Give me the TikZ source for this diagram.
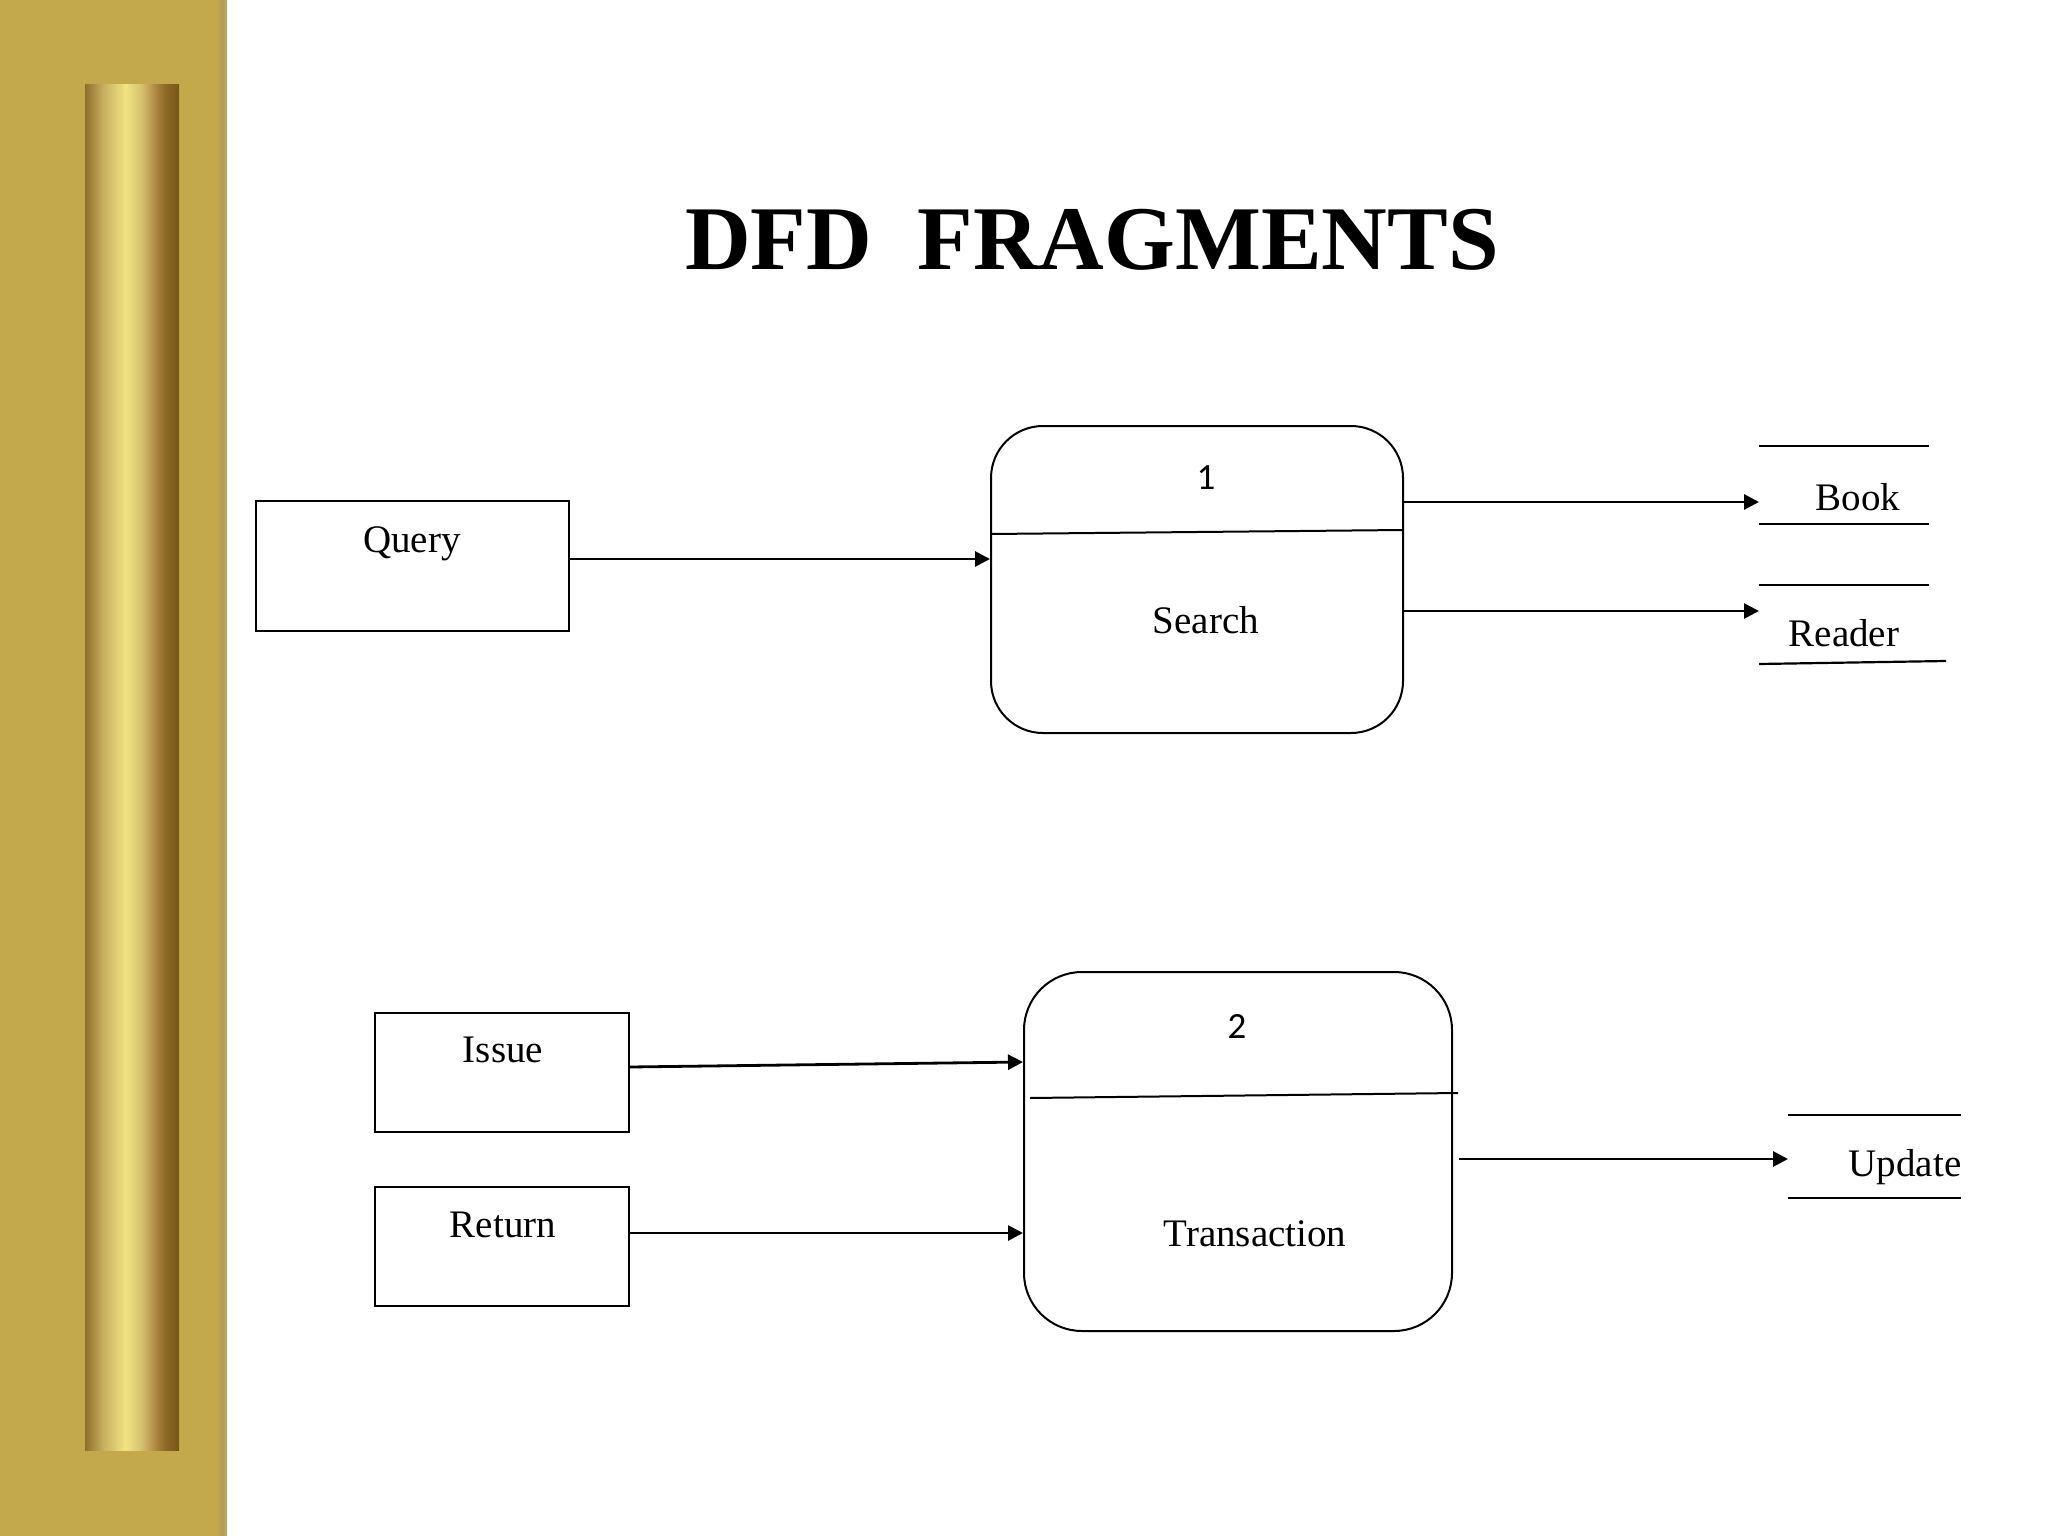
\documentclass[tikz,border=0pt]{standalone}
\usepackage{fontspec}
\setmainfont{Liberation Serif}
\newfontfamily\digitfont{Carlito}
\usetikzlibrary{arrows.meta}
\definecolor{panelgold}{HTML}{C3A94C}
\definecolor{paneledge}{HTML}{B39C55}
\definecolor{barA}{HTML}{8E6F2A}
\definecolor{barB}{HTML}{9E8038}
\definecolor{barC}{HTML}{C9B062}
\definecolor{barD}{HTML}{F0E483}
\definecolor{barE}{HTML}{D8C470}
\definecolor{barF}{HTML}{B08A45}
\definecolor{barG}{HTML}{8F6A25}
\definecolor{barH}{HTML}{74561A}
\pgfdeclarehorizontalshading{goldbar}{100bp}{%
  color(0bp)=(barA);
  color(25bp)=(barA);
  color(27.5bp)=(barB);
  color(35bp)=(barC);
  color(46.5bp)=(barD);
  color(54.5bp)=(barE);
  color(62bp)=(barF);
  color(67.5bp)=(barG);
  color(75bp)=(barH);
  color(100bp)=(barH)}
\pgfdeclarehorizontalshading{goldedge}{100bp}{%
  color(0bp)=(panelgold);
  color(25bp)=(panelgold);
  color(55bp)=(paneledge);
  color(75bp)=(paneledge!85!white);
  color(100bp)=(paneledge!85!white)}
\tikzset{
  txt/.style={font=\fontsize{39}{44}\selectfont, inner sep=0pt, anchor=base},
  digit/.style={font=\digitfont\fontsize{37}{42}\selectfont, inner sep=0pt, anchor=base},
  extbox/.style={draw=black, line width=2pt, rectangle, inner sep=0pt},
  procbox/.style={draw=black, line width=2pt, rectangle, inner sep=0pt},
  storeline/.style={draw=black, line width=2.2pt},
  divider/.style={draw=black, line width=2pt},
  flow/.style={draw=black, line width=2.8pt, -{Triangle[length=15pt,width=15pt]}},
}
\begin{document}
\begin{tikzpicture}[x=1pt,y=-1pt]
\useasboundingbox (0,0) rectangle (2048,1536);
\fill[white] (0,0) rectangle (2048,1536);
% gold side panel
\fill[panelgold] (0,0) rectangle (227,1536);
\shade[shading=goldedge] (216,0) rectangle (227,1536);
\shade[shading=goldbar] (85,85) rectangle (179,1450);
% title
\node[font=\bfseries\fontsize{91}{100}\selectfont, inner sep=0pt, anchor=base] (title) at (1092,269) {DFD\ \ FRAGMENTS};
% ---------- fragment 1 ----------
\node[extbox, minimum width=313pt, minimum height=130pt] (query) at (412.5,566) {};
\node[txt] (querytxt) at (412,552) {Query};
\node[procbox, rounded corners=52pt, minimum width=412pt, minimum height=307pt] (proc1) at (1197,579.5) {};
\node[digit] (p1num) at (1206,489) {1};
\node[txt] (p1name) at (1206,633) {Search};
\coordinate (p1dl) at (991,534);
\coordinate (p1dr) at (1403,530);
\draw[divider] (p1dl) -- (p1dr);
% store Book
\coordinate (bookin) at (1759,502);
\coordinate (booktl) at (1759,446);
\coordinate (booktr) at (1929,446);
\coordinate (bookbl) at (1759,524);
\coordinate (bookbr) at (1929,524);
\draw[storeline] (booktl) -- (booktr);
\draw[storeline] (bookbl) -- (bookbr);
\node[txt] (book) at (1858,510) {Book};
% store Reader
\coordinate (readerin) at (1759,611);
\coordinate (readertl) at (1759,585);
\coordinate (readertr) at (1929,585);
\coordinate (readerbl) at (1759,664);
\coordinate (readerbr) at (1946,661);
\draw[storeline] (readertl) -- (readertr);
\draw[storeline] (readerbl) -- (readerbr);
\node[txt] (reader) at (1844,646) {Reader};
% flows
\draw[flow] ([yshift=7pt]query.east) coordinate (qa) -- (qa -| proc1.west);
\draw[flow] (proc1.east |- bookin) -- (bookin);
\draw[flow] (proc1.east |- readerin) -- (readerin);
% ---------- fragment 2 ----------
\node[extbox, minimum width=254pt, minimum height=119pt] (issue) at (502,1072.5) {};
\node[txt] (issuetxt) at (503,1062) {Issue};
\node[extbox, minimum width=254pt, minimum height=119pt] (return) at (502,1246.5) {};
\node[txt] (returntxt) at (503,1237) {Return};
\node[procbox, rounded corners=58pt, minimum width=428pt, minimum height=359pt] (proc2) at (1238,1151.5) {};
\node[digit] (p2num) at (1237,1038) {2};
\node[txt] (p2name) at (1255,1246) {Transaction};
\coordinate (p2dl) at (1030,1098);
\coordinate (p2dr) at (1458,1093);
\draw[divider] (p2dl) -- (p2dr);
% store Update
\coordinate (updatein) at (1788,1159);
\coordinate (updatetl) at (1788,1115);
\coordinate (updatetr) at (1961,1115);
\coordinate (updatebl) at (1788,1198);
\coordinate (updatebr) at (1961,1198);
\draw[storeline] (updatetl) -- (updatetr);
\draw[storeline] (updatebl) -- (updatebr);
\node[txt] (update) at (1905,1176) {Update};
% flows
\draw[flow] ([yshift=5.5pt]issue.east) -- ([yshift=89.5pt]proc2.west);
\draw[flow] ([yshift=13.5pt]return.east) coordinate (ra) -- (ra -| proc2.west);
\draw[flow] ([xshift=6pt]proc2.east |- updatein) -- (updatein);
\end{tikzpicture}
\end{document}
